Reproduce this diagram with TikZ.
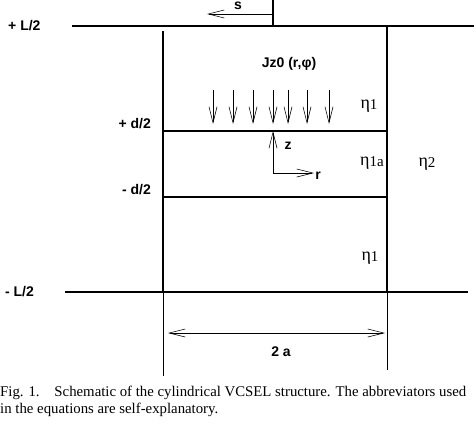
\documentclass[tikz,border=0pt]{standalone}
\usepackage{fontspec}
\setmainfont{Liberation Serif}
\setsansfont{Liberation Sans}
\usetikzlibrary{arrows.meta}
\usetikzlibrary{positioning}
\tikzset{
  >={Straight Barb[length=16pt,width=8pt,line width=0.6pt]},
  lbl/.style={font=\sffamily\bfseries\fontsize{14}{14}\selectfont,inner sep=0pt},
  idx/.style={font=\fontsize{18}{18}\selectfont,inner sep=0pt},
  wall/.style={line width=1.2pt},
  guide/.style={line width=0.6pt},
}
\newcommand{\etalbl}[1]{η\raisebox{-1.5pt}{\fontsize{15}{15}\selectfont #1}}
\begin{document}
\begin{tikzpicture}[x=1pt,y=-1pt]
				\useasboundingbox (0,0) rectangle (474,431);
				\path
				(72,26) coordinate (tl) (474,26) coordinate (tr)
				(65,292) coordinate (bl) (468,292) coordinate (br)
				(163,31) coordinate (lwtop) (163,292) coordinate (lwbot) (163,376) coordinate (lwend)
				(387,26) coordinate (rwtop) (387,292) coordinate (rwbot) (387,370) coordinate (rwend)
				(163,131) coordinate (pdl) (386,131) coordinate (pdr)
				(163,197) coordinate (mdl) (386,197) coordinate (mdr)
				(273,0) coordinate (stop) (273,26) coordinate (sbot)
				(273,14) coordinate (sa) (207,14) coordinate (sb)
				(273,173) coordinate (org) (273,131) coordinate (zend) (314,173) coordinate (rend)
				(168,333) coordinate (dimL) (385,333) coordinate (dimR);
				\path
				(8,26) node (pL) [lbl,anchor=west] {+ L/2}
				(34,292) node (mL) [lbl,anchor=east] {- L/2}
				(151,124) node (pd) [lbl,anchor=east] {+ d/2}
				(151,190) node (md) [lbl,anchor=east] {- d/2}
				(238,6) node (s) [lbl] {s}
				(289,64) node (jz) [lbl] {Jz0 (r,φ)}
				(288,146) node (z) [lbl] {z}
				(318,176) node (r) [lbl] {r}
				(281,352) node (wd) [lbl] {2 a}
				(369,106) node (eta1) [idx] {\etalbl{1}}
				(372,163) node (eta1a) [idx] {\etalbl{1a}}
				(427,164) node (eta2) [idx] {\etalbl{2}}
				(370,258) node (eta1b) [idx] {\etalbl{1}}
				(0,386) node (cap) [anchor=north west,inner sep=0pt,align=left,
				  font=\fontsize{14.8}{17}\selectfont] {Fig. 1.\quad Schematic of the cylindrical VCSEL structure. The abbreviators used\\in the equations are self-explanatory.};
				\draw[wall] (tl) -- (tr) (bl) -- (br) (pdl) -- (pdr) (mdl) -- (mdr)
				(lwtop) -- (lwbot) (rwtop) -- (rwbot) (stop) -- (sbot);
				\draw[guide] (lwbot) -- (lwend) (rwbot) -- (rwend);
				\draw[guide,->] (sa) -- (sb);
				\draw[guide,->] (org) -- (zend);
				\draw[guide,->] (org) -- (rend);
				\draw[guide,<->] (dimL) -- (dimR);
				\foreach \x in {213,233,253,273,288,307,329}
				  \draw[guide,->] (\x,90) -- (\x,124);
			\end{tikzpicture}
\end{document}
